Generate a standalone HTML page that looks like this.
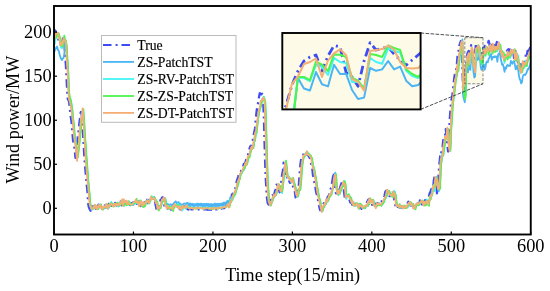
<!DOCTYPE html><html><head><meta charset="utf-8"><style>html,body{margin:0;padding:0;background:#fff;overflow:hidden}svg{display:block}</style></head><body><svg width="550" height="291" viewBox="0 0 550 291">
<rect x="0" y="0" width="550" height="291" fill="#fff"/>
<defs><clipPath id="cm"><rect x="54" y="6" width="476.75" height="228.5"/></clipPath><clipPath id="ci"><rect x="282.3" y="33" width="138.3" height="76.4"/></clipPath></defs>
<rect x="464.80" y="37.71" width="18.20" height="46.06" fill="#fcfae4"/>
<g clip-path="url(#cm)">
<polyline points="54.00,33.69 54.79,30.21 55.59,31.10 56.38,33.35 57.18,35.06 57.97,37.83 58.77,40.83 59.56,44.10 60.36,43.31 61.15,45.45 61.95,37.32 62.74,38.87 63.53,38.12 64.33,43.25 65.12,54.37 65.92,65.60 66.71,81.65 67.51,97.84 68.30,99.89 69.10,101.58 69.89,108.66 70.69,116.54 71.48,121.35 72.28,131.09 73.07,140.78 73.86,143.83 74.66,149.36 75.45,157.80 76.25,155.60 77.04,146.60 77.84,136.32 78.63,130.08 79.43,122.63 80.22,116.91 81.02,109.51 81.81,115.96 82.61,128.72 83.40,140.76 84.19,153.73 84.99,165.25 85.78,174.09 86.58,183.36 87.37,190.93 88.17,203.73 88.96,207.53 89.76,209.19 90.55,210.82 91.35,208.42 92.14,207.29 92.93,206.91 93.73,205.22 94.52,205.88 95.32,207.80 96.11,208.87 96.91,206.23 97.70,207.04 98.50,204.69 99.29,206.01 100.09,208.52 100.88,208.19 101.67,208.62 102.47,206.55 103.26,207.15 104.06,206.94 104.85,205.38 105.65,207.35 106.44,207.08 107.24,205.87 108.03,204.85 108.83,204.51 109.62,202.57 110.42,203.48 111.21,205.92 112.00,205.30 112.80,203.24 113.59,202.91 114.39,205.45 115.18,202.84 115.98,204.14 116.77,205.49 117.57,204.66 118.36,202.35 119.16,204.78 119.95,202.07 120.75,199.88 121.54,205.35 122.33,203.34 123.13,202.47 123.92,202.80 124.72,201.51 125.51,201.61 126.31,204.20 127.10,202.62 127.90,202.41 128.69,202.96 129.49,203.92 130.28,205.05 131.07,204.16 131.87,203.19 132.66,202.71 133.46,203.39 134.25,200.76 135.05,201.54 135.84,202.84 136.64,202.79 137.43,205.68 138.23,202.33 139.02,201.05 139.81,203.08 140.61,206.00 141.40,203.76 142.20,204.73 142.99,203.42 143.79,203.10 144.58,202.16 145.38,202.61 146.17,199.66 146.97,199.91 147.76,203.13 148.56,200.81 149.35,197.62 150.14,198.61 150.94,198.69 151.73,198.94 152.53,198.60 153.32,198.16 154.12,201.42 154.91,201.39 155.71,205.26 156.50,208.97 157.30,210.17 158.09,209.02 158.88,206.45 159.68,203.69 160.47,200.04 161.27,199.62 162.06,197.66 162.86,197.35 163.65,201.63 164.45,205.92 165.24,208.34 166.04,207.90 166.83,207.05 167.63,208.57 168.42,208.12 169.21,207.57 170.01,207.89 170.80,209.53 171.60,209.41 172.39,206.64 173.19,205.54 173.98,204.37 174.78,205.71 175.57,206.72 176.37,205.83 177.16,205.02 177.95,206.97 178.75,205.37 179.54,206.25 180.34,209.47 181.13,206.88 181.93,206.80 182.72,206.64 183.52,206.68 184.31,206.20 185.11,206.32 185.90,208.67 186.70,207.67 187.49,209.17 188.28,209.51 189.08,209.17 189.87,208.93 190.67,209.03 191.46,209.34 192.26,209.33 193.05,209.23 193.85,209.52 194.64,209.15 195.44,208.99 196.23,209.16 197.03,209.19 197.82,208.96 198.61,209.35 199.41,209.07 200.20,209.40 201.00,209.46 201.79,209.61 202.59,209.67 203.38,209.28 204.18,209.44 204.97,209.38 205.77,209.36 206.56,209.27 207.35,209.64 208.15,209.82 208.94,209.46 209.74,209.64 210.53,209.53 211.33,209.80 212.12,208.97 212.92,209.21 213.71,209.59 214.51,209.38 215.30,209.07 216.09,209.27 216.89,209.43 217.68,209.00 218.48,209.03 219.27,209.13 220.07,208.90 220.86,208.52 221.66,208.58 222.45,208.00 223.25,207.95 224.04,208.24 224.84,207.50 225.63,206.11 226.42,205.22 227.22,207.32 228.01,203.70 228.81,203.19 229.60,202.29 230.40,200.22 231.19,199.26 231.99,194.47 232.78,194.92 233.58,192.98 234.37,191.59 235.16,189.11 235.96,185.42 236.75,181.07 237.55,178.77 238.34,176.38 239.14,173.22 239.93,172.69 240.73,172.06 241.52,169.45 242.32,167.82 243.11,166.83 243.91,163.78 244.70,163.47 245.49,162.24 246.29,159.18 247.08,157.11 247.88,155.62 248.67,152.56 249.47,148.77 250.26,146.36 251.06,148.02 251.85,143.42 252.65,140.77 253.44,135.80 254.23,132.24 255.03,128.44 255.82,119.31 256.62,111.23 257.41,105.99 258.21,102.60 259.00,97.13 259.80,93.27 260.59,93.76 261.39,94.42 262.18,93.77 262.98,98.41 263.77,114.03 264.56,142.94 265.36,169.54 266.15,185.47 266.95,197.99 267.74,203.12 268.54,204.47 269.33,203.62 270.13,203.07 270.92,200.14 271.72,196.91 272.51,195.23 273.31,195.81 274.10,194.65 274.89,191.44 275.69,189.48 276.48,184.67 277.28,185.06 278.07,186.48 278.87,189.05 279.66,192.25 280.46,190.84 281.25,181.64 282.05,175.28 282.84,171.03 283.63,162.68 284.43,165.09 285.22,172.41 286.02,178.13 286.81,176.82 287.61,179.56 288.40,178.91 289.20,181.01 289.99,182.92 290.79,179.67 291.58,180.13 292.38,183.18 293.17,187.17 293.96,189.39 294.76,190.75 295.55,197.32 296.35,194.27 297.14,191.37 297.94,190.69 298.73,186.20 299.53,175.25 300.32,165.20 301.12,159.50 301.91,155.66 302.70,155.03 303.50,154.26 304.29,151.82 305.09,153.22 305.88,153.88 306.68,154.02 307.47,155.18 308.27,154.61 309.06,156.53 309.86,158.26 310.65,162.60 311.44,164.51 312.24,168.09 313.03,175.63 313.83,177.99 314.62,183.83 315.42,187.45 316.21,192.48 317.01,195.20 317.80,198.87 318.60,203.00 319.39,207.42 320.19,210.07 320.98,208.80 321.77,205.81 322.57,204.64 323.36,204.83 324.16,202.23 324.95,200.62 325.75,200.93 326.54,200.45 327.34,197.91 328.13,196.13 328.93,196.54 329.72,191.82 330.51,189.23 331.31,187.51 332.10,182.41 332.90,177.47 333.69,172.53 334.49,183.81 335.28,191.24 336.08,193.41 336.87,192.60 337.67,191.10 338.46,190.50 339.26,190.23 340.05,188.15 340.84,184.96 341.64,182.97 342.43,181.06 343.23,181.97 344.02,191.89 344.82,198.19 345.61,195.29 346.41,195.84 347.20,195.40 348.00,197.11 348.79,198.47 349.58,200.15 350.38,202.65 351.17,201.91 351.97,203.57 352.76,205.87 353.56,205.66 354.35,202.92 355.15,203.96 355.94,204.17 356.74,207.09 357.53,206.78 358.33,205.07 359.12,205.39 359.91,205.64 360.71,206.59 361.50,208.81 362.30,207.93 363.09,207.13 363.89,205.42 364.68,207.59 365.48,205.24 366.27,203.51 367.07,202.16 367.86,200.48 368.65,199.29 369.45,200.04 370.24,201.40 371.04,199.97 371.83,202.85 372.63,206.89 373.42,205.66 374.22,206.67 375.01,205.37 375.81,203.68 376.60,204.71 377.40,203.29 378.19,203.56 378.98,205.18 379.78,203.57 380.57,203.02 381.37,201.82 382.16,200.50 382.96,199.26 383.75,197.88 384.55,195.83 385.34,191.71 386.14,190.75 386.93,192.59 387.72,192.61 388.52,195.12 389.31,195.77 390.11,196.26 390.90,196.06 391.70,192.97 392.49,192.60 393.29,194.10 394.08,198.29 394.88,203.57 395.67,206.37 396.47,204.63 397.26,205.97 398.05,206.90 398.85,207.19 399.64,207.57 400.44,206.01 401.23,207.53 402.03,207.38 402.82,206.90 403.62,207.90 404.41,207.46 405.21,205.75 406.00,207.77 406.80,205.02 407.59,203.14 408.38,201.67 409.18,202.36 409.97,204.36 410.77,204.49 411.56,206.00 412.36,208.28 413.15,208.57 413.95,205.70 414.74,203.48 415.54,204.01 416.33,205.03 417.12,203.77 417.92,204.46 418.71,203.06 419.51,202.44 420.30,199.06 421.10,201.11 421.89,204.44 422.69,203.39 423.48,205.30 424.28,202.77 425.07,200.14 425.87,202.83 426.66,203.61 427.45,200.55 428.25,201.71 429.04,195.78 429.84,192.78 430.63,191.54 431.43,188.27 432.22,185.99 433.02,189.21 433.81,180.67 434.61,176.19 435.40,182.99 436.19,184.64 436.99,193.40 437.78,191.35 438.58,174.71 439.37,164.00 440.17,156.27 440.96,156.54 441.76,148.45 442.55,147.10 443.35,139.09 444.14,137.08 444.94,136.36 445.73,129.11 446.52,134.91 447.32,144.71 448.11,151.49 448.91,138.21 449.70,120.10 450.50,109.26 451.29,100.34 452.09,97.59 452.88,90.56 453.68,82.39 454.47,76.73 455.26,71.56 456.06,70.72 456.85,63.95 457.65,54.91 458.44,51.45 459.24,45.69 460.03,43.70 460.83,41.20 461.62,50.85 462.42,68.41 463.21,93.17 464.00,87.15 464.80,81.72 465.59,69.06 466.39,60.62 467.18,54.59 467.98,52.18 468.77,50.97 469.57,60.62 470.36,51.57 471.16,45.24 471.95,46.15 472.75,61.40 473.54,64.24 474.33,69.84 475.13,54.59 475.92,43.56 476.72,47.96 477.51,46.93 478.31,46.15 479.10,50.37 479.90,53.99 480.69,57.12 481.49,53.99 482.28,50.97 483.07,47.96 483.87,50.56 484.66,45.89 485.46,48.33 486.25,49.60 487.05,46.70 487.84,43.94 488.64,40.89 489.43,44.12 490.23,48.19 491.02,43.43 491.82,43.87 492.61,45.15 493.40,44.48 494.20,45.12 494.99,46.13 495.79,46.38 496.58,42.88 497.38,41.04 498.17,42.33 498.97,45.28 499.76,50.41 500.56,52.86 501.35,52.09 502.14,57.44 502.94,58.61 503.73,56.22 504.53,55.78 505.32,53.69 506.12,52.33 506.91,51.20 507.71,49.73 508.50,52.07 509.30,47.26 510.09,48.77 510.89,50.38 511.68,48.60 512.47,48.90 513.27,51.56 514.06,58.10 514.86,51.84 515.65,51.15 516.45,59.06 517.24,59.22 518.04,62.75 518.83,68.70 519.63,66.42 520.42,70.11 521.21,61.27 522.01,64.59 522.80,60.70 523.60,62.74 524.39,65.18 525.19,58.68 525.98,54.28 526.78,56.25 527.57,50.84 528.37,50.56 529.16,49.85 529.96,48.03 530.75,50.29" fill="none" stroke="#3d4df2" stroke-width="2.3" stroke-dasharray="8.5 4.1 2 3.9" stroke-linejoin="round"/>
<polyline points="54.00,52.32 54.79,50.60 55.59,49.10 56.38,47.15 57.18,46.61 57.97,49.87 58.77,50.87 59.56,54.19 60.36,56.98 61.15,58.79 61.95,60.13 62.74,58.59 63.53,57.77 64.33,54.26 65.12,40.97 65.92,40.69 66.71,51.24 67.51,64.21 68.30,80.69 69.10,96.38 69.89,98.96 70.69,102.45 71.48,107.49 72.28,113.86 73.07,121.90 73.86,129.90 74.66,137.85 75.45,143.27 76.25,147.09 77.04,157.27 77.84,153.52 78.63,147.98 79.43,139.12 80.22,131.85 81.02,122.77 81.81,117.90 82.61,111.27 83.40,115.24 84.19,127.52 84.99,139.23 85.78,151.80 86.58,163.82 87.37,172.43 88.17,183.02 88.96,190.84 89.76,200.78 90.55,206.84 91.35,209.60 92.14,209.53 92.93,208.33 93.73,208.02 94.52,206.21 95.32,205.53 96.11,207.06 96.91,207.10 97.70,208.16 98.50,206.57 99.29,205.08 100.09,204.56 100.88,204.63 101.67,207.01 102.47,208.16 103.26,208.21 104.06,207.90 104.85,207.91 105.65,207.51 106.44,205.64 107.24,205.96 108.03,208.72 108.83,207.38 109.62,205.40 110.42,204.45 111.21,203.44 112.00,203.49 112.80,204.63 113.59,205.84 114.39,204.02 115.18,205.08 115.98,205.08 116.77,203.42 117.57,203.91 118.36,204.86 119.16,203.69 119.95,202.73 120.75,203.18 121.54,203.95 122.33,201.65 123.13,203.07 123.92,203.23 124.72,202.33 125.51,201.97 126.31,203.28 127.10,203.28 127.90,202.74 128.69,201.54 129.49,203.92 130.28,203.45 131.07,204.32 131.87,204.86 132.66,204.67 133.46,204.88 134.25,202.99 135.05,202.61 135.84,201.90 136.64,201.71 137.43,202.92 138.23,202.55 139.02,203.55 139.81,202.60 140.61,201.79 141.40,202.71 142.20,202.89 142.99,205.39 143.79,204.59 144.58,206.46 145.38,202.51 146.17,201.32 146.97,200.50 147.76,200.89 148.56,202.54 149.35,201.94 150.14,200.01 150.94,198.91 151.73,198.87 152.53,198.14 153.32,198.74 154.12,196.92 154.91,199.46 155.71,201.43 156.50,202.38 157.30,205.53 158.09,209.51 158.88,207.52 159.68,207.77 160.47,207.86 161.27,204.54 162.06,200.27 162.86,199.63 163.65,198.81 164.45,197.95 165.24,198.43 166.04,202.24 166.83,204.55 167.63,203.80 168.42,204.69 169.21,205.08 170.01,204.59 170.80,204.21 171.60,205.48 172.39,205.53 173.19,204.02 173.98,202.89 174.78,202.38 175.57,201.33 176.37,202.44 177.16,203.73 177.95,202.11 178.75,202.15 179.54,205.13 180.34,203.60 181.13,204.74 181.93,206.10 182.72,204.81 183.52,203.61 184.31,203.66 185.11,203.49 185.90,204.23 186.70,203.19 187.49,202.85 188.28,205.19 189.08,203.36 189.87,206.12 190.67,203.52 191.46,205.60 192.26,203.74 193.05,206.07 193.85,203.96 194.64,206.30 195.44,204.09 196.23,205.67 197.03,203.49 197.82,206.22 198.61,203.76 199.41,205.59 200.20,203.58 201.00,205.89 201.79,203.75 202.59,206.09 203.38,203.83 204.18,206.24 204.97,203.81 205.77,205.95 206.56,203.55 207.35,205.97 208.15,203.87 208.94,206.34 209.74,204.18 210.53,206.07 211.33,203.86 212.12,206.57 212.92,204.32 213.71,205.98 214.51,203.49 215.30,206.28 216.09,203.79 216.89,206.08 217.68,203.67 218.48,206.15 219.27,203.74 220.07,205.82 220.86,203.60 221.66,205.66 222.45,203.08 223.25,205.24 224.04,202.52 224.84,204.46 225.63,202.40 226.42,204.49 227.22,200.91 228.01,202.19 228.81,201.06 229.60,200.42 230.40,197.20 231.19,198.03 231.99,196.64 232.78,197.79 233.58,195.28 234.37,193.05 235.16,192.64 235.96,190.92 236.75,187.16 237.55,185.84 238.34,181.46 239.14,179.45 239.93,176.57 240.73,174.20 241.52,172.82 242.32,171.00 243.11,169.16 243.91,169.77 244.70,166.99 245.49,164.22 246.29,164.06 247.08,163.23 247.88,158.48 248.67,157.44 249.47,155.20 250.26,151.81 251.06,149.67 251.85,148.99 252.65,147.71 253.44,145.22 254.23,140.98 255.03,136.08 255.82,132.84 256.62,128.37 257.41,121.53 258.21,116.09 259.00,112.22 259.80,108.15 260.59,106.07 261.39,101.05 262.18,99.88 262.98,98.01 263.77,97.82 264.56,100.56 265.36,111.69 266.15,139.37 266.95,164.93 267.74,185.77 268.54,198.05 269.33,201.91 270.13,205.37 270.92,204.40 271.72,202.29 272.51,198.23 273.31,197.64 274.10,196.33 274.89,196.04 275.69,194.80 276.48,191.28 277.28,188.85 278.07,185.51 278.87,184.86 279.66,186.43 280.46,189.39 281.25,192.25 282.05,189.65 282.84,183.81 283.63,175.50 284.43,171.30 285.22,164.02 286.02,164.31 286.81,172.40 287.61,177.63 288.40,176.82 289.20,177.53 289.99,179.48 290.79,179.86 291.58,181.53 292.38,179.82 293.17,180.56 293.96,183.30 294.76,184.99 295.55,189.21 296.35,192.49 297.14,196.51 297.94,195.16 298.73,190.21 299.53,190.35 300.32,184.61 301.12,175.28 301.91,166.45 302.70,160.93 303.50,157.11 304.29,155.58 305.09,155.76 305.88,153.19 306.68,152.36 307.47,152.61 308.27,153.89 309.06,154.95 309.86,154.93 310.65,156.34 311.44,157.52 312.24,161.60 313.03,167.75 313.83,168.12 314.62,173.36 315.42,176.96 316.21,181.76 317.01,188.03 317.80,191.32 318.60,195.74 319.39,199.73 320.19,203.44 320.98,207.17 321.77,211.19 322.57,209.73 323.36,206.75 324.16,205.52 324.95,205.48 325.75,203.69 326.54,200.03 327.34,199.86 328.13,200.23 328.93,198.19 329.72,195.85 330.51,194.53 331.31,193.25 332.10,190.16 332.90,187.14 333.69,183.18 334.49,179.81 335.28,172.69 336.08,180.73 336.87,190.14 337.67,193.49 338.46,193.92 339.26,191.40 340.05,193.57 340.84,188.63 341.64,186.72 342.43,186.50 343.23,185.04 344.02,181.51 344.82,182.53 345.61,190.21 346.41,197.32 347.20,195.70 348.00,194.92 348.79,195.38 349.58,196.81 350.38,197.84 351.17,199.88 351.97,201.98 352.76,202.12 353.56,204.44 354.35,205.60 355.15,205.37 355.94,204.57 356.74,204.83 357.53,205.13 358.33,206.84 359.12,206.63 359.91,203.62 360.71,205.66 361.50,206.15 362.30,207.16 363.09,208.09 363.89,207.91 364.68,208.26 365.48,206.43 366.27,205.33 367.07,204.85 367.86,204.18 368.65,202.44 369.45,199.28 370.24,199.52 371.04,200.78 371.83,201.80 372.63,199.87 373.42,202.03 374.22,204.69 375.01,205.75 375.81,206.16 376.60,205.87 377.40,203.81 378.19,204.89 378.98,204.22 379.78,204.28 380.57,203.90 381.37,205.41 382.16,203.65 382.96,203.65 383.75,200.97 384.55,198.29 385.34,198.28 386.14,195.53 386.93,192.90 387.72,190.57 388.52,191.19 389.31,192.82 390.11,194.07 390.90,196.02 391.70,196.08 392.49,195.79 393.29,192.86 394.08,192.81 394.88,192.11 395.67,197.74 396.47,205.23 397.26,204.78 398.05,206.28 398.85,205.31 399.64,205.30 400.44,207.63 401.23,207.08 402.03,207.48 402.82,206.38 403.62,207.35 404.41,207.30 405.21,206.38 406.00,207.17 406.80,206.68 407.59,206.96 408.38,206.47 409.18,203.68 409.97,203.25 410.77,204.10 411.56,204.76 412.36,204.50 413.15,205.47 413.95,207.56 414.74,208.08 415.54,207.11 416.33,205.62 417.12,204.04 417.92,204.49 418.71,203.78 419.51,203.14 420.30,203.10 421.10,201.65 421.89,201.42 422.69,202.00 423.48,203.77 424.28,204.37 425.07,203.24 425.87,203.02 426.66,201.34 427.45,201.78 428.25,204.87 429.04,201.82 429.84,199.38 430.63,196.96 431.43,194.44 432.22,192.32 433.02,185.97 433.81,186.46 434.61,187.40 435.40,182.43 436.19,177.84 436.99,181.70 437.78,183.21 438.58,191.43 439.37,188.93 440.17,177.38 440.96,164.53 441.76,157.54 442.55,152.98 443.35,149.70 444.14,146.18 444.94,140.34 445.73,138.45 446.52,134.94 447.32,131.98 448.11,132.06 448.91,143.70 449.70,149.59 450.50,142.18 451.29,123.55 452.09,108.42 452.88,100.76 453.68,95.90 454.47,89.30 455.26,82.24 456.06,76.66 456.85,72.57 457.65,67.01 458.44,65.80 459.24,56.50 460.03,52.39 460.83,48.38 461.62,43.93 462.42,39.35 463.21,96.19 464.00,99.20 464.80,102.22 465.59,94.98 466.39,64.90 467.18,71.17 467.98,72.37 468.77,61.22 469.57,68.64 470.36,69.90 471.16,56.82 471.95,62.43 472.75,62.25 473.54,72.07 474.33,77.50 475.13,76.65 475.92,58.81 476.72,60.50 477.51,59.65 478.31,54.59 479.10,59.65 479.90,57.97 480.69,66.47 481.49,69.84 482.28,69.06 483.07,65.44 483.87,64.43 484.66,69.84 485.46,67.34 486.25,62.29 487.05,61.51 487.84,62.38 488.64,58.74 489.43,57.64 490.23,55.08 491.02,54.02 491.82,59.79 492.61,57.73 493.40,56.61 494.20,57.42 494.99,56.22 495.79,57.12 496.58,56.48 497.38,61.76 498.17,54.65 498.97,53.57 499.76,52.74 500.56,57.48 501.35,61.29 502.14,64.84 502.94,64.21 503.73,67.38 504.53,71.75 505.32,67.30 506.12,68.43 506.91,65.66 507.71,64.80 508.50,65.93 509.30,65.83 510.09,65.75 510.89,60.95 511.68,62.75 512.47,63.83 513.27,61.44 514.06,61.06 514.86,64.63 515.65,69.27 516.45,68.93 517.24,65.43 518.04,68.58 518.83,74.84 519.63,78.74 520.42,80.40 521.21,83.42 522.01,82.05 522.80,76.45 523.60,74.90 524.39,74.49 525.19,75.00 525.98,73.76 526.78,72.19 527.57,69.16 528.37,69.63 529.16,66.99 529.96,66.12 530.75,62.06" fill="none" stroke="#4ab4f5" stroke-width="1.8" stroke-linejoin="round"/>
<polyline points="54.00,39.08 54.79,43.81 55.59,38.40 56.38,36.68 57.18,34.97 57.97,37.04 58.77,35.71 59.56,40.62 60.36,44.26 61.15,47.82 61.95,48.03 62.74,45.39 63.53,42.21 64.33,38.15 65.12,39.39 65.92,41.93 66.71,47.65 67.51,64.39 68.30,72.45 69.10,95.10 69.89,98.19 70.69,100.38 71.48,103.12 72.28,109.61 73.07,118.88 73.86,124.74 74.66,136.49 75.45,140.22 76.25,147.14 77.04,153.01 77.84,155.62 78.63,148.96 79.43,141.96 80.22,133.02 81.02,125.87 81.81,117.09 82.61,113.57 83.40,112.22 84.19,123.67 84.99,137.78 85.78,150.12 86.58,160.82 87.37,171.07 88.17,179.63 88.96,188.58 89.76,197.71 90.55,206.09 91.35,207.99 92.14,208.71 92.93,208.27 93.73,207.81 94.52,206.78 95.32,205.78 96.11,206.27 96.91,206.41 97.70,208.98 98.50,207.98 99.29,204.71 100.09,205.96 100.88,205.56 101.67,207.90 102.47,206.78 103.26,209.75 104.06,207.86 104.85,206.43 105.65,205.94 106.44,206.21 107.24,207.24 108.03,208.45 108.83,207.62 109.62,205.74 110.42,205.40 111.21,201.90 112.00,204.07 112.80,205.19 113.59,206.02 114.39,204.82 115.18,203.88 115.98,205.13 116.77,203.60 117.57,203.59 118.36,206.60 119.16,206.12 119.95,202.13 120.75,203.28 121.54,203.57 122.33,202.30 123.13,201.72 123.92,206.21 124.72,201.22 125.51,201.00 126.31,203.41 127.10,201.67 127.90,203.80 128.69,201.62 129.49,201.62 130.28,204.65 131.07,204.92 131.87,204.14 132.66,204.47 133.46,202.73 134.25,202.04 135.05,203.68 135.84,202.52 136.64,201.13 137.43,203.64 138.23,201.12 139.02,204.05 139.81,204.40 140.61,200.71 141.40,202.99 142.20,202.84 142.99,205.85 143.79,204.34 144.58,204.98 145.38,204.82 146.17,202.33 146.97,202.40 147.76,200.09 148.56,201.22 149.35,203.67 150.14,201.67 150.94,197.04 151.73,197.68 152.53,197.84 153.32,198.22 154.12,198.76 154.91,199.36 155.71,200.15 156.50,202.95 157.30,204.28 158.09,205.98 158.88,208.98 159.68,207.25 160.47,208.14 161.27,205.53 162.06,200.45 162.86,200.25 163.65,199.28 164.45,198.70 165.24,200.21 166.04,203.95 166.83,206.61 167.63,207.92 168.42,206.24 169.21,206.44 170.01,207.14 170.80,207.40 171.60,208.12 172.39,208.53 173.19,209.06 173.98,206.95 174.78,206.02 175.57,204.88 176.37,206.29 177.16,206.63 177.95,203.55 178.75,204.89 179.54,207.79 180.34,205.45 181.13,207.43 181.93,210.66 182.72,209.51 183.52,207.63 184.31,207.40 185.11,206.11 185.90,208.64 186.70,205.12 187.49,206.98 188.28,207.17 189.08,207.46 189.87,207.97 190.67,208.22 191.46,207.43 192.26,208.07 193.05,207.83 193.85,208.07 194.64,207.79 195.44,207.66 196.23,207.97 197.03,207.43 197.82,207.51 198.61,207.98 199.41,207.91 200.20,208.05 201.00,207.71 201.79,207.84 202.59,207.89 203.38,208.15 204.18,208.32 204.97,207.85 205.77,207.91 206.56,208.18 207.35,207.85 208.15,207.88 208.94,208.42 209.74,208.69 210.53,208.54 211.33,208.23 212.12,208.12 212.92,208.57 213.71,207.94 214.51,207.91 215.30,208.17 216.09,208.00 216.89,208.20 217.68,207.84 218.48,208.31 219.27,207.76 220.07,207.99 220.86,207.78 221.66,207.93 222.45,207.22 223.25,207.26 224.04,206.88 224.84,206.56 225.63,206.53 226.42,206.49 227.22,205.77 228.01,203.72 228.81,204.88 229.60,205.45 230.40,199.55 231.19,201.31 231.99,198.34 232.78,199.68 233.58,196.41 234.37,193.08 235.16,194.62 235.96,190.89 236.75,188.41 237.55,185.37 238.34,183.51 239.14,180.02 239.93,178.20 240.73,174.04 241.52,173.54 242.32,171.14 243.11,170.82 243.91,168.79 244.70,167.72 245.49,165.02 246.29,162.88 247.08,164.18 247.88,158.70 248.67,156.83 249.47,156.42 250.26,153.34 251.06,150.56 251.85,148.46 252.65,147.18 253.44,146.81 254.23,140.52 255.03,140.98 255.82,133.29 256.62,133.24 257.41,124.65 258.21,117.83 259.00,113.15 259.80,108.30 260.59,106.29 261.39,104.36 262.18,100.90 262.98,98.93 263.77,96.73 264.56,99.38 265.36,106.49 266.15,130.06 266.95,159.52 267.74,181.80 268.54,194.32 269.33,201.27 270.13,205.18 270.92,204.96 271.72,201.22 272.51,201.18 273.31,198.92 274.10,196.08 274.89,195.56 275.69,195.56 276.48,193.76 277.28,189.73 278.07,187.74 278.87,185.07 279.66,186.19 280.46,187.97 281.25,191.12 282.05,193.15 282.84,186.57 283.63,177.94 284.43,171.67 285.22,167.12 286.02,162.84 286.81,168.19 287.61,176.94 288.40,176.35 289.20,176.96 289.99,180.06 290.79,180.03 291.58,182.81 292.38,180.96 293.17,178.33 293.96,182.25 294.76,184.73 295.55,188.30 296.35,192.75 297.14,196.20 297.94,196.12 298.73,192.69 299.53,189.81 300.32,188.36 301.12,179.00 301.91,167.85 302.70,161.15 303.50,157.81 304.29,156.07 305.09,154.96 305.88,153.50 306.68,154.55 307.47,152.69 308.27,154.45 309.06,153.74 309.86,154.90 310.65,156.43 311.44,157.30 312.24,161.75 313.03,165.22 313.83,167.59 314.62,170.54 315.42,177.96 316.21,180.37 317.01,186.71 317.80,191.95 318.60,195.56 319.39,198.67 320.19,201.06 320.98,206.25 321.77,209.51 322.57,210.46 323.36,207.24 324.16,206.33 324.95,204.92 325.75,204.21 326.54,201.52 327.34,199.05 328.13,201.32 328.93,197.31 329.72,196.19 330.51,194.05 331.31,194.20 332.10,191.43 332.90,188.25 333.69,184.95 334.49,179.74 335.28,174.31 336.08,177.11 336.87,188.69 337.67,192.41 338.46,195.13 339.26,191.94 340.05,192.24 340.84,189.25 341.64,187.88 342.43,185.28 343.23,184.80 344.02,180.80 344.82,181.45 345.61,186.75 346.41,198.97 347.20,196.54 348.00,195.43 348.79,195.01 349.58,195.80 350.38,199.36 351.17,199.26 351.97,203.00 352.76,203.64 353.56,202.71 354.35,204.73 355.15,205.81 355.94,205.16 356.74,203.96 357.53,203.57 358.33,204.58 359.12,208.87 359.91,204.88 360.71,204.97 361.50,205.37 362.30,205.81 363.09,207.01 363.89,208.31 364.68,207.26 365.48,207.04 366.27,206.92 367.07,205.58 367.86,205.44 368.65,200.49 369.45,201.71 370.24,199.77 371.04,200.76 371.83,200.78 372.63,201.38 373.42,200.73 374.22,205.14 375.01,205.40 375.81,205.81 376.60,206.28 377.40,203.82 378.19,205.31 378.98,204.55 379.78,203.21 380.57,204.41 381.37,205.18 382.16,204.80 382.96,201.88 383.75,202.21 384.55,200.36 385.34,198.66 386.14,196.26 386.93,193.74 387.72,191.96 388.52,190.98 389.31,192.37 390.11,193.76 390.90,194.33 391.70,195.69 392.49,195.18 393.29,194.74 394.08,190.64 394.88,191.89 395.67,195.26 396.47,202.97 397.26,205.29 398.05,204.84 398.85,206.73 399.64,205.82 400.44,207.27 401.23,206.27 402.03,205.91 402.82,207.79 403.62,206.96 404.41,206.22 405.21,206.41 406.00,206.31 406.80,207.67 407.59,206.46 408.38,206.38 409.18,203.30 409.97,202.47 410.77,202.74 411.56,205.18 412.36,203.83 413.15,203.63 413.95,206.90 414.74,208.72 415.54,207.78 416.33,204.96 417.12,204.67 417.92,204.54 418.71,205.15 419.51,203.94 420.30,203.28 421.10,202.77 421.89,200.74 422.69,201.79 423.48,202.93 424.28,205.22 425.07,202.89 425.87,204.79 426.66,199.41 427.45,200.52 428.25,201.54 429.04,201.94 429.84,198.62 430.63,199.12 431.43,194.79 432.22,193.14 433.02,188.64 433.81,185.00 434.61,191.21 435.40,184.80 436.19,176.76 436.99,181.26 437.78,183.11 438.58,188.62 439.37,189.76 440.17,179.95 440.96,165.24 441.76,158.18 442.55,156.33 443.35,155.64 444.14,147.34 444.94,143.18 445.73,136.46 446.52,138.16 447.32,133.01 448.11,129.81 448.91,141.75 449.70,148.47 450.50,147.70 451.29,125.28 452.09,114.31 452.88,102.74 453.68,97.55 454.47,90.09 455.26,80.35 456.06,77.66 456.85,75.93 457.65,71.36 458.44,64.74 459.24,61.31 460.03,51.10 460.83,49.24 461.62,42.95 462.42,42.65 463.21,90.16 464.00,93.17 464.80,96.19 465.59,93.17 466.39,64.54 467.18,64.90 467.98,66.77 468.77,57.00 469.57,58.09 470.36,63.03 471.16,52.78 471.95,55.19 472.75,55.80 473.54,67.25 474.33,67.25 475.13,70.69 475.92,52.78 476.72,55.19 477.51,56.28 478.31,46.93 479.10,48.56 479.90,49.46 480.69,60.50 481.49,63.63 482.28,64.84 483.07,62.43 483.87,49.28 484.66,50.79 485.46,55.96 486.25,52.53 487.05,48.38 487.84,48.90 488.64,52.53 489.43,52.61 490.23,47.63 491.02,47.32 491.82,53.05 492.61,52.62 493.40,47.50 494.20,47.82 494.99,49.04 495.79,48.18 496.58,46.74 497.38,51.00 498.17,49.21 498.97,46.08 499.76,43.98 500.56,48.89 501.35,52.93 502.14,50.81 502.94,56.76 503.73,57.14 504.53,62.76 505.32,57.20 506.12,58.60 506.91,56.54 507.71,55.80 508.50,54.12 509.30,57.58 510.09,58.10 510.89,55.54 511.68,50.56 512.47,53.42 513.27,52.89 514.06,52.27 514.86,53.82 515.65,60.19 516.45,56.81 517.24,53.83 518.04,55.57 518.83,61.99 519.63,67.52 520.42,72.84 521.21,72.17 522.01,72.12 522.80,68.04 523.60,63.80 524.39,67.76 525.19,63.24 525.98,60.37 526.78,66.01 527.57,60.25 528.37,60.27 529.16,57.20 529.96,55.83 530.75,53.95" fill="none" stroke="#44f4f8" stroke-width="1.8" stroke-linejoin="round"/>
<polyline points="54.00,36.95 54.79,38.05 55.59,38.32 56.38,36.62 57.18,32.93 57.97,32.93 58.77,33.49 59.56,36.33 60.36,37.89 61.15,45.73 61.95,41.97 62.74,46.34 63.53,42.36 64.33,35.59 65.12,40.43 65.92,40.42 66.71,45.31 67.51,60.13 68.30,72.42 69.10,91.88 69.89,97.78 70.69,99.49 71.48,104.40 72.28,109.35 73.07,117.33 73.86,124.28 74.66,133.40 75.45,142.86 76.25,143.24 77.04,152.71 77.84,157.50 78.63,150.50 79.43,144.67 80.22,133.54 81.02,128.52 81.81,117.54 82.61,116.63 83.40,109.17 84.19,120.43 84.99,134.93 85.78,146.09 86.58,156.76 87.37,167.18 88.17,180.04 88.96,186.58 89.76,196.30 90.55,205.53 91.35,206.02 92.14,208.46 92.93,208.88 93.73,208.62 94.52,207.56 95.32,205.08 96.11,206.43 96.91,206.59 97.70,209.39 98.50,208.52 99.29,206.91 100.09,206.69 100.88,204.41 101.67,208.54 102.47,207.43 103.26,209.13 104.06,207.30 104.85,207.18 105.65,206.55 106.44,207.37 107.24,205.10 108.03,208.19 108.83,207.13 109.62,203.77 110.42,205.98 111.21,203.08 112.00,203.94 112.80,205.02 113.59,206.68 114.39,204.54 115.18,204.34 115.98,204.32 116.77,204.01 117.57,202.77 118.36,204.31 119.16,205.84 119.95,204.05 120.75,204.18 121.54,204.53 122.33,202.80 123.13,200.57 123.92,205.55 124.72,200.86 125.51,201.89 126.31,205.16 127.10,202.50 127.90,205.10 128.69,201.38 129.49,202.77 130.28,203.45 131.07,204.89 131.87,203.97 132.66,204.13 133.46,203.81 134.25,202.74 135.05,202.45 135.84,202.56 136.64,198.88 137.43,203.02 138.23,201.51 139.02,203.07 139.81,206.06 140.61,200.32 141.40,203.35 142.20,202.97 142.99,207.20 143.79,203.24 144.58,206.44 145.38,205.16 146.17,201.17 146.97,201.86 147.76,200.51 148.56,200.82 149.35,202.68 150.14,201.17 150.94,199.08 151.73,196.19 152.53,198.71 153.32,198.64 154.12,198.70 154.91,198.06 155.71,199.50 156.50,203.28 157.30,201.45 158.09,206.20 158.88,210.56 159.68,208.00 160.47,208.34 161.27,205.43 162.06,201.80 162.86,200.06 163.65,201.36 164.45,197.93 165.24,199.40 166.04,204.07 166.83,205.52 167.63,208.55 168.42,206.78 169.21,206.55 170.01,209.17 170.80,207.85 171.60,206.76 172.39,207.88 173.19,211.05 173.98,206.06 174.78,206.94 175.57,205.67 176.37,205.25 177.16,206.65 177.95,204.82 178.75,205.85 179.54,208.28 180.34,207.47 181.13,207.94 181.93,208.16 182.72,207.41 183.52,206.68 184.31,207.56 185.11,206.82 185.90,207.29 186.70,206.11 187.49,206.92 188.28,207.59 189.08,207.51 189.87,208.16 190.67,208.34 191.46,207.81 192.26,208.23 193.05,208.20 193.85,208.55 194.64,208.12 195.44,208.32 196.23,208.72 197.03,208.00 197.82,207.88 198.61,208.17 199.41,207.85 200.20,207.98 201.00,208.27 201.79,208.21 202.59,208.46 203.38,208.51 204.18,208.54 204.97,208.45 205.77,208.14 206.56,208.40 207.35,207.83 208.15,208.08 208.94,208.62 209.74,208.68 210.53,208.63 211.33,208.14 212.12,208.19 212.92,209.06 213.71,207.85 214.51,207.88 215.30,208.64 216.09,208.45 216.89,208.52 217.68,207.91 218.48,208.59 219.27,208.30 220.07,207.76 220.86,208.04 221.66,208.07 222.45,207.36 223.25,207.49 224.04,207.33 224.84,206.88 225.63,206.65 226.42,206.80 227.22,206.17 228.01,205.89 228.81,204.19 229.60,207.13 230.40,200.78 231.19,202.19 231.99,199.76 232.78,198.00 233.58,196.94 234.37,193.87 235.16,194.66 235.96,191.24 236.75,189.42 237.55,186.14 238.34,183.55 239.14,179.50 239.93,179.40 240.73,173.51 241.52,173.47 242.32,171.61 243.11,170.15 243.91,169.23 244.70,168.11 245.49,166.12 246.29,162.24 247.08,164.45 247.88,160.15 248.67,155.63 249.47,157.49 250.26,154.16 251.06,150.35 251.85,147.82 252.65,147.52 253.44,148.17 254.23,141.23 255.03,140.41 255.82,132.90 256.62,132.67 257.41,125.22 258.21,118.14 259.00,113.68 259.80,108.71 260.59,107.85 261.39,102.79 262.18,101.03 262.98,99.88 263.77,97.27 264.56,99.90 265.36,101.73 266.15,125.61 266.95,152.85 267.74,179.44 268.54,190.95 269.33,201.09 270.13,203.43 270.92,205.44 271.72,201.72 272.51,200.64 273.31,198.04 274.10,196.48 274.89,194.33 275.69,195.02 276.48,194.04 277.28,189.67 278.07,188.91 278.87,184.25 279.66,186.44 280.46,186.06 281.25,190.84 282.05,191.52 282.84,187.57 283.63,179.68 284.43,172.50 285.22,168.97 286.02,160.69 286.81,167.02 287.61,175.62 288.40,177.11 289.20,177.61 289.99,178.88 290.79,179.04 291.58,180.22 292.38,181.47 293.17,177.86 293.96,182.82 294.76,184.08 295.55,187.43 296.35,191.54 297.14,194.81 297.94,196.48 298.73,191.95 299.53,190.29 300.32,189.69 301.12,183.22 301.91,170.38 302.70,162.29 303.50,158.88 304.29,155.82 305.09,154.14 305.88,153.95 306.68,153.08 307.47,151.87 308.27,154.88 309.06,154.14 309.86,156.43 310.65,155.19 311.44,157.55 312.24,158.94 313.03,165.35 313.83,168.09 314.62,170.46 315.42,175.22 316.21,179.60 317.01,185.86 317.80,189.20 318.60,194.76 319.39,198.30 320.19,200.21 320.98,205.99 321.77,208.71 322.57,210.97 323.36,208.00 324.16,207.16 324.95,202.91 325.75,204.01 326.54,202.10 327.34,199.32 328.13,200.93 328.93,198.09 329.72,196.91 330.51,195.79 331.31,194.94 332.10,191.64 332.90,187.57 333.69,185.68 334.49,181.00 335.28,175.94 336.08,174.22 336.87,185.38 337.67,192.46 338.46,194.76 339.26,192.05 340.05,192.86 340.84,190.98 341.64,188.61 342.43,185.32 343.23,186.35 344.02,181.36 344.82,181.54 345.61,184.22 346.41,196.45 347.20,195.37 348.00,195.50 348.79,194.21 349.58,196.43 350.38,198.08 351.17,197.75 351.97,201.57 352.76,204.11 353.56,202.21 354.35,205.49 355.15,205.69 355.94,205.23 356.74,203.08 357.53,203.54 358.33,205.09 359.12,208.92 359.91,204.15 360.71,203.69 361.50,204.88 362.30,205.95 363.09,208.05 363.89,206.91 364.68,207.93 365.48,206.65 366.27,206.28 367.07,205.38 367.86,206.06 368.65,201.46 369.45,204.01 370.24,198.17 371.04,200.25 371.83,201.81 372.63,201.47 373.42,200.04 374.22,204.98 375.01,205.80 375.81,206.24 376.60,206.80 377.40,204.06 378.19,204.68 378.98,205.36 379.78,203.78 380.57,204.58 381.37,205.68 382.16,203.81 382.96,203.18 383.75,202.55 384.55,199.79 385.34,198.39 386.14,194.76 386.93,196.06 387.72,190.46 388.52,191.99 389.31,190.90 390.11,193.55 390.90,194.20 391.70,196.42 392.49,194.13 393.29,197.26 394.08,192.11 394.88,193.22 395.67,195.07 396.47,201.52 397.26,205.42 398.05,205.42 398.85,207.09 399.64,204.13 400.44,206.72 401.23,205.87 402.03,206.03 402.82,207.80 403.62,208.25 404.41,205.54 405.21,207.74 406.00,206.09 406.80,207.92 407.59,205.82 408.38,205.79 409.18,203.16 409.97,202.19 410.77,202.05 411.56,204.42 412.36,204.51 413.15,204.39 413.95,206.87 414.74,208.09 415.54,209.37 416.33,204.50 417.12,204.82 417.92,204.40 418.71,205.40 419.51,204.55 420.30,201.88 421.10,202.40 421.89,201.12 422.69,200.55 423.48,202.40 424.28,205.67 425.07,202.01 425.87,205.38 426.66,202.75 427.45,201.14 428.25,200.77 429.04,205.85 429.84,196.18 430.63,199.25 431.43,195.11 432.22,195.47 433.02,187.69 433.81,184.99 434.61,187.52 435.40,185.96 436.19,177.31 436.99,178.27 437.78,182.45 438.58,189.42 439.37,189.50 440.17,187.92 440.96,166.65 441.76,158.26 442.55,155.62 443.35,154.61 444.14,149.25 444.94,144.57 445.73,137.59 446.52,137.16 447.32,134.88 448.11,128.86 448.91,139.46 449.70,145.47 450.50,150.94 451.29,128.93 452.09,117.93 452.88,106.37 453.68,97.72 454.47,93.01 455.26,86.19 456.06,79.19 456.85,75.52 457.65,69.31 458.44,70.62 459.24,62.38 460.03,49.45 460.83,52.16 461.62,48.88 462.42,41.95 463.21,88.95 464.00,93.17 464.80,99.20 465.59,96.19 466.39,64.24 467.18,64.24 467.98,66.16 468.77,54.95 469.57,56.82 470.36,60.62 471.16,50.61 471.95,50.85 472.75,52.18 473.54,64.84 474.33,66.47 475.13,71.47 475.92,50.37 476.72,50.97 477.51,52.18 478.31,45.24 479.10,46.75 479.90,47.96 480.69,59.65 481.49,62.43 482.28,64.24 483.07,60.02 483.87,48.62 484.66,49.83 485.46,55.29 486.25,51.18 487.05,47.13 487.84,48.52 488.64,54.81 489.43,48.11 490.23,50.89 491.02,47.02 491.82,49.00 492.61,53.63 493.40,46.26 494.20,47.70 494.99,52.02 495.79,51.47 496.58,47.21 497.38,49.42 498.17,48.84 498.97,45.35 499.76,45.32 500.56,45.09 501.35,54.66 502.14,50.83 502.94,55.88 503.73,52.40 504.53,61.13 505.32,54.60 506.12,57.18 506.91,56.93 507.71,59.46 508.50,53.10 509.30,56.93 510.09,53.14 510.89,55.77 511.68,51.35 512.47,52.81 513.27,52.61 514.06,51.59 514.86,49.30 515.65,60.56 516.45,59.69 517.24,58.01 518.04,56.82 518.83,62.16 519.63,64.12 520.42,71.22 521.21,72.18 522.01,72.10 522.80,69.42 523.60,64.32 524.39,66.95 525.19,63.68 525.98,63.15 526.78,65.95 527.57,60.96 528.37,59.55 529.16,57.20 529.96,54.92 530.75,57.29" fill="none" stroke="#4cf44c" stroke-width="1.8" stroke-linejoin="round"/>
<polyline points="54.00,38.55 54.79,37.62 55.59,32.97 56.38,33.12 57.18,33.72 57.97,32.64 58.77,38.48 59.56,37.90 60.36,45.41 61.15,42.58 61.95,44.57 62.74,43.37 63.53,38.38 64.33,40.06 65.12,40.18 65.92,43.21 66.71,59.91 67.51,68.26 68.30,90.47 69.10,99.84 69.89,101.40 70.69,105.85 71.48,109.53 72.28,117.02 73.07,122.86 73.86,134.72 74.66,140.95 75.45,144.79 76.25,152.44 77.04,160.88 77.84,149.66 78.63,144.37 79.43,133.54 80.22,126.93 81.02,118.28 81.81,118.05 82.61,108.44 83.40,118.37 84.19,136.16 84.99,146.48 85.78,160.03 86.58,169.92 87.37,179.06 88.17,186.76 88.96,196.70 89.76,204.52 90.55,206.82 91.35,208.24 92.14,208.99 92.93,208.55 93.73,207.00 94.52,205.02 95.32,208.09 96.11,205.65 96.91,209.03 97.70,208.14 98.50,205.10 99.29,206.95 100.09,204.90 100.88,208.10 101.67,206.53 102.47,209.68 103.26,206.71 104.06,206.49 104.85,207.21 105.65,206.45 106.44,203.58 107.24,207.65 108.03,208.46 108.83,205.16 109.62,205.77 110.42,204.18 111.21,203.88 112.00,205.03 112.80,206.30 113.59,204.67 114.39,203.80 115.18,205.79 115.98,203.40 116.77,204.03 117.57,205.66 118.36,204.79 119.16,203.17 119.95,204.90 120.75,202.99 121.54,200.62 122.33,199.26 123.13,205.96 123.92,199.32 124.72,201.99 125.51,202.33 126.31,200.60 127.10,204.36 127.90,201.46 128.69,203.30 129.49,204.14 130.28,204.48 131.07,204.66 131.87,204.65 132.66,203.83 133.46,202.42 134.25,201.86 135.05,201.57 135.84,199.71 136.64,202.39 137.43,201.46 138.23,202.96 139.02,206.35 139.81,200.98 140.61,203.62 141.40,201.48 142.20,206.15 142.99,202.34 143.79,204.97 144.58,204.04 145.38,201.85 146.17,202.33 146.97,201.06 147.76,200.16 148.56,203.22 149.35,202.12 150.14,199.38 150.94,196.94 151.73,199.61 152.53,198.69 153.32,198.68 154.12,198.25 154.91,198.78 155.71,203.11 156.50,202.02 157.30,207.89 158.09,209.42 158.88,206.67 159.68,208.08 160.47,206.36 161.27,202.19 162.06,199.30 162.86,200.02 163.65,197.59 164.45,198.18 165.24,205.56 166.04,206.26 166.83,208.81 167.63,205.61 168.42,207.73 169.21,208.04 170.01,207.83 170.80,207.93 171.60,208.18 172.39,209.59 173.19,205.62 173.98,206.19 174.78,204.05 175.57,205.95 176.37,206.43 177.16,206.79 177.95,205.99 178.75,208.95 179.54,206.86 180.34,206.49 181.13,210.13 181.93,207.72 182.72,205.55 183.52,207.95 184.31,206.80 185.11,207.49 185.90,206.49 186.70,205.38 187.49,207.50 188.28,207.71 189.08,208.25 189.87,208.75 190.67,207.72 191.46,208.17 192.26,208.19 193.05,208.67 193.85,208.28 194.64,208.09 195.44,208.66 196.23,207.90 197.03,207.86 197.82,208.49 198.61,208.05 199.41,207.87 200.20,208.09 201.00,208.15 201.79,208.06 202.59,208.35 203.38,208.76 204.18,208.65 204.97,208.17 205.77,208.28 206.56,208.10 207.35,208.03 208.15,208.39 208.94,208.51 209.74,208.71 210.53,208.27 211.33,208.31 212.12,209.29 212.92,208.16 213.71,207.91 214.51,208.72 215.30,208.11 216.09,208.23 216.89,207.86 217.68,208.63 218.48,208.38 219.27,207.77 220.07,208.15 220.86,208.13 221.66,207.58 222.45,207.53 223.25,207.03 224.04,207.14 224.84,206.57 225.63,207.04 226.42,206.12 227.22,205.02 228.01,204.19 228.81,207.65 229.60,202.57 230.40,203.56 231.19,200.84 231.99,199.47 232.78,196.81 233.58,193.96 234.37,193.69 235.16,190.27 235.96,190.26 236.75,185.65 237.55,182.22 238.34,180.14 239.14,180.53 239.93,173.90 240.73,173.08 241.52,172.14 242.32,170.07 243.11,168.65 243.91,166.70 244.70,165.38 245.49,162.54 246.29,164.73 247.08,159.92 247.88,156.47 248.67,156.28 249.47,154.84 250.26,151.23 251.06,147.83 251.85,146.37 252.65,148.66 253.44,142.13 254.23,141.04 255.03,132.64 255.82,132.34 256.62,125.06 257.41,120.32 258.21,114.08 259.00,109.51 259.80,107.75 260.59,101.61 261.39,100.29 262.18,100.33 262.98,97.58 263.77,98.97 264.56,100.33 265.36,125.76 266.15,152.98 266.95,179.41 267.74,191.42 268.54,201.06 269.33,202.93 270.13,205.35 270.92,202.08 271.72,202.64 272.51,198.28 273.31,196.09 274.10,194.44 274.89,196.21 275.69,194.81 276.48,191.56 277.28,189.05 278.07,183.90 278.87,185.92 279.66,188.12 280.46,191.36 281.25,191.17 282.05,187.65 282.84,179.73 283.63,173.12 284.43,170.45 285.22,162.86 286.02,166.92 286.81,175.91 287.61,176.91 288.40,176.74 289.20,179.19 289.99,179.88 290.79,180.28 291.58,182.15 292.38,177.89 293.17,181.11 293.96,185.16 294.76,187.69 295.55,190.91 296.35,194.77 297.14,195.85 297.94,193.07 298.73,189.01 299.53,188.36 300.32,181.74 301.12,168.85 301.91,162.73 302.70,159.07 303.50,155.28 304.29,155.22 305.09,155.07 305.88,154.67 306.68,151.14 307.47,154.25 308.27,154.92 309.06,154.69 309.86,155.52 310.65,157.10 311.44,159.43 312.24,165.21 313.03,167.51 313.83,170.11 314.62,175.81 315.42,179.43 316.21,185.65 317.01,189.89 317.80,194.64 318.60,198.64 319.39,200.27 320.19,205.35 320.98,208.27 321.77,212.10 322.57,206.31 323.36,206.52 324.16,204.23 324.95,204.91 325.75,202.09 326.54,199.15 327.34,201.56 328.13,198.52 328.93,196.12 329.72,194.12 330.51,194.81 331.31,192.27 332.10,189.60 332.90,187.84 333.69,180.68 334.49,175.70 335.28,175.00 336.08,186.46 336.87,191.72 337.67,194.33 338.46,191.11 339.26,193.17 340.05,189.88 340.84,187.76 341.64,185.82 342.43,185.30 343.23,181.63 344.02,183.08 344.82,184.67 345.61,197.95 346.41,195.56 347.20,196.27 348.00,195.62 348.79,195.83 349.58,198.11 350.38,199.02 351.17,201.46 351.97,202.90 352.76,201.29 353.56,205.75 354.35,204.91 355.15,205.07 355.94,204.04 356.74,203.26 357.53,205.02 358.33,208.27 359.12,204.71 359.91,205.41 360.71,205.96 361.50,205.24 362.30,208.06 363.09,206.73 363.89,207.19 364.68,205.78 365.48,205.69 366.27,205.83 367.07,206.00 367.86,201.68 368.65,203.13 369.45,198.48 370.24,200.32 371.04,202.56 371.83,200.14 372.63,200.13 373.42,204.87 374.22,204.98 375.01,205.94 375.81,208.23 376.60,203.07 377.40,204.40 378.19,204.21 378.98,204.25 379.78,203.60 380.57,204.78 381.37,203.29 382.16,202.80 382.96,201.69 383.75,199.96 384.55,198.60 385.34,196.99 386.14,194.46 386.93,189.63 387.72,190.78 388.52,192.18 389.31,194.26 390.11,194.76 390.90,195.55 391.70,194.43 392.49,196.04 393.29,191.60 394.08,192.74 394.88,194.63 395.67,202.13 396.47,206.48 397.26,205.15 398.05,205.61 398.85,204.98 399.64,207.65 400.44,205.75 401.23,206.52 402.03,207.50 402.82,208.34 403.62,205.60 404.41,207.48 405.21,206.60 406.00,207.94 406.80,205.46 407.59,205.99 408.38,203.29 409.18,202.82 409.97,201.90 410.77,204.94 411.56,204.42 412.36,203.81 413.15,208.60 413.95,207.80 414.74,208.33 415.54,204.30 416.33,204.88 417.12,203.43 417.92,204.48 418.71,202.85 419.51,203.10 420.30,202.93 421.10,200.78 421.89,200.81 422.69,201.62 423.48,205.30 424.28,201.66 425.07,203.78 425.87,202.50 426.66,200.97 427.45,203.10 428.25,204.47 429.04,200.76 429.84,200.74 430.63,195.41 431.43,196.11 432.22,192.41 433.02,186.19 433.81,188.22 434.61,184.75 435.40,176.85 436.19,178.56 436.99,180.38 437.78,188.21 438.58,189.08 439.37,186.43 440.17,164.97 440.96,158.04 441.76,157.30 442.55,155.75 443.35,146.91 444.14,142.70 444.94,136.37 445.73,138.22 446.52,137.30 447.32,127.61 448.11,140.22 448.91,147.17 449.70,151.10 450.50,130.63 451.29,116.13 452.09,105.29 452.88,99.40 453.68,92.49 454.47,86.32 455.26,79.15 456.06,77.36 456.85,66.20 457.65,69.69 458.44,59.88 459.24,53.66 460.03,51.40 460.83,44.49 461.62,41.38 462.42,41.56 463.21,90.16 464.00,84.13 464.80,84.13 465.59,68.46 466.39,63.93 467.18,56.40 467.98,55.19 468.77,53.08 469.57,64.24 470.36,54.35 471.16,50.01 471.95,47.54 472.75,50.97 473.54,65.44 474.33,67.25 475.13,72.43 475.92,48.56 476.72,47.96 477.51,47.35 478.31,45.24 479.10,47.96 479.90,55.19 480.69,58.81 481.49,59.11 482.28,58.81 483.07,55.19 483.87,49.35 484.66,52.80 485.46,53.49 486.25,46.33 487.05,49.49 487.84,51.81 488.64,50.28 489.43,47.88 490.23,44.84 491.02,50.92 491.82,52.37 492.61,43.77 493.40,44.52 494.20,50.24 494.99,49.68 495.79,46.67 496.58,49.37 497.38,48.92 498.17,44.24 498.97,42.31 499.76,48.59 500.56,52.49 501.35,50.78 502.14,56.91 502.94,53.27 503.73,59.67 504.53,56.88 505.32,56.99 506.12,56.51 506.91,55.75 507.71,51.34 508.50,54.74 509.30,54.35 510.09,55.96 510.89,49.57 511.68,52.34 512.47,52.69 513.27,50.38 514.06,49.44 514.86,59.68 515.65,58.82 516.45,52.72 517.24,56.69 518.04,60.90 518.83,67.40 519.63,69.77 520.42,69.08 521.21,72.75 522.01,68.09 522.80,61.13 523.60,66.64 524.39,62.75 525.19,62.56 525.98,64.19 526.78,60.42 527.57,59.24 528.37,55.06 529.16,54.72 529.96,51.77 530.75,48.97" fill="none" stroke="#f4ae76" stroke-width="1.8" stroke-linejoin="round"/>
</g>
<rect x="464.80" y="37.71" width="18.20" height="46.06" fill="none" stroke="#555" stroke-width="1" stroke-dasharray="3 1.5" opacity="0.7"/>
<line x1="420.6" y1="33" x2="483.00" y2="37.71" stroke="#3a3a3a" stroke-width="0.9" stroke-dasharray="3.6 1.4"/>
<line x1="420.6" y1="109.4" x2="483.00" y2="83.77" stroke="#3a3a3a" stroke-width="0.9" stroke-dasharray="3.6 1.4"/>
<rect x="282.3" y="33" width="138.3" height="76.4" fill="#fdfbe7"/>
<g clip-path="url(#ci)">
<polyline points="243.82,46.24 249.83,42.93 255.84,38.79 261.86,54.80 267.87,83.92 273.88,125.00 279.89,115.00 285.91,106.00 291.92,85.00 297.93,71.00 303.95,61.00 309.96,57.00 315.97,55.00 321.99,71.00 328.00,56.00 334.01,45.50 340.03,47.00 346.04,72.30 352.05,77.00 358.06,86.30 364.08,61.00 370.09,42.70 376.10,50.00 382.12,48.30 388.13,47.00 394.14,54.00 400.16,60.00 406.17,65.20 412.18,60.00 418.19,55.00 424.21,50.00 430.22,54.32 436.23,46.57 442.25,50.62 448.26,52.73 454.27,47.91 460.29,43.34" fill="none" stroke="#3d4df2" stroke-width="2.8" stroke-dasharray="8.5 4.1 2 3.9" stroke-linejoin="round"/>
<polyline points="243.82,64.17 249.83,57.35 255.84,50.70 261.86,43.32 267.87,35.72 273.88,130.00 279.89,135.00 285.91,140.00 291.92,128.00 297.93,78.10 303.95,88.50 309.96,90.50 315.97,72.00 321.99,84.30 328.00,86.40 334.01,64.70 340.03,74.00 346.04,73.70 352.05,90.00 358.06,99.00 364.08,97.60 370.09,68.00 376.10,70.80 382.12,69.40 388.13,61.00 394.14,69.40 400.16,66.60 406.17,80.70 412.18,86.30 418.19,85.00 424.21,79.00 430.22,77.32 436.23,86.30 442.25,82.16 448.26,73.78 454.27,72.49 460.29,73.92" fill="none" stroke="#4ab4f5" stroke-width="2.0" stroke-linejoin="round"/>
<polyline points="243.82,72.15 249.83,55.21 255.84,52.13 261.86,41.69 267.87,41.20 273.88,120.00 279.89,125.00 285.91,130.00 291.92,125.00 297.93,77.50 303.95,78.10 309.96,81.20 315.97,65.00 321.99,66.80 328.00,75.00 334.01,58.00 340.03,62.00 346.04,63.00 352.05,82.00 358.06,82.00 364.08,87.70 370.09,58.00 376.10,62.00 382.12,63.80 388.13,48.30 394.14,51.00 400.16,52.50 406.17,70.80 412.18,76.00 418.19,78.00 424.21,74.00 430.22,52.19 436.23,54.70 442.25,63.27 448.26,57.58 454.27,50.71 460.29,51.56" fill="none" stroke="#44f4f8" stroke-width="2.0" stroke-linejoin="round"/>
<polyline points="243.82,73.93 249.83,52.48 255.84,56.97 261.86,51.52 267.87,40.04 273.88,118.00 279.89,125.00 285.91,135.00 291.92,130.00 297.93,77.00 303.95,77.00 309.96,80.20 315.97,61.60 321.99,64.70 328.00,71.00 334.01,54.40 340.03,54.80 346.04,57.00 352.05,78.00 358.06,80.70 364.08,89.00 370.09,54.00 376.10,55.00 382.12,57.00 388.13,45.50 394.14,48.00 400.16,50.00 406.17,69.40 412.18,74.00 418.19,77.00 424.21,70.00 430.22,51.10 436.23,53.10 442.25,62.17 448.26,55.35 454.27,48.62 460.29,50.93" fill="none" stroke="#4cf44c" stroke-width="2.0" stroke-linejoin="round"/>
<polyline points="243.82,59.47 249.83,55.71 255.84,44.24 261.86,39.10 267.87,39.38 273.88,120.00 279.89,110.00 285.91,110.00 291.92,84.00 297.93,76.50 303.95,64.00 309.96,62.00 315.97,58.50 321.99,77.00 328.00,60.60 334.01,53.40 340.03,49.30 346.04,55.00 352.05,79.00 358.06,82.00 364.08,90.60 370.09,51.00 376.10,50.00 382.12,49.00 388.13,45.50 394.14,50.00 400.16,62.00 406.17,68.00 412.18,68.50 418.19,68.00 424.21,62.00 430.22,52.31 436.23,58.03 442.25,59.18 448.26,47.29 454.27,52.54 460.29,56.40" fill="none" stroke="#f4ae76" stroke-width="2.0" stroke-linejoin="round"/>
</g>
<rect x="282.3" y="33" width="138.3" height="76.4" fill="none" stroke="#000" stroke-width="1.9"/>
<rect x="101.5" y="35.5" width="134.5" height="86.8" fill="#fff" stroke="#bbb" stroke-width="1"/>
<line x1="103" y1="45.0" x2="134" y2="45.0" stroke="#3d4df2" stroke-width="2.2" stroke-dasharray="8.5 4.1 2 3.9"/>
<text x="137.3" y="49.7" font-family="Liberation Serif, 'Times New Roman', serif" stroke="#000" stroke-width="0.15" font-size="13.7" fill="#000">True</text>
<line x1="103" y1="61.9" x2="134" y2="61.9" stroke="#4ab4f5" stroke-width="1.8"/>
<text x="137.3" y="66.6" font-family="Liberation Serif, 'Times New Roman', serif" stroke="#000" stroke-width="0.15" font-size="13.7" fill="#000">ZS-PatchTST</text>
<line x1="103" y1="79.0" x2="134" y2="79.0" stroke="#44f4f8" stroke-width="1.8"/>
<text x="137.3" y="83.7" font-family="Liberation Serif, 'Times New Roman', serif" stroke="#000" stroke-width="0.15" font-size="13.7" fill="#000">ZS-RV-PatchTST</text>
<line x1="103" y1="96.0" x2="134" y2="96.0" stroke="#4cf44c" stroke-width="1.8"/>
<text x="137.3" y="100.7" font-family="Liberation Serif, 'Times New Roman', serif" stroke="#000" stroke-width="0.15" font-size="13.7" fill="#000">ZS-ZS-PatchTST</text>
<line x1="103" y1="112.9" x2="134" y2="112.9" stroke="#f4ae76" stroke-width="1.8"/>
<text x="137.3" y="117.6" font-family="Liberation Serif, 'Times New Roman', serif" stroke="#000" stroke-width="0.15" font-size="13.7" fill="#000">ZS-DT-PatchTST</text>
<rect x="54" y="6" width="476.75" height="228.5" fill="none" stroke="#000" stroke-width="1.9"/>
<line x1="54.00" y1="234.5" x2="54.00" y2="231.5" stroke="#000" stroke-width="1.2"/>
<text x="54.00" y="251.6" text-anchor="middle" font-family="Liberation Serif, 'Times New Roman', serif" font-size="18.4">0</text>
<line x1="133.46" y1="234.5" x2="133.46" y2="231.5" stroke="#000" stroke-width="1.2"/>
<text x="133.46" y="251.6" text-anchor="middle" font-family="Liberation Serif, 'Times New Roman', serif" font-size="18.4">100</text>
<line x1="212.92" y1="234.5" x2="212.92" y2="231.5" stroke="#000" stroke-width="1.2"/>
<text x="212.92" y="251.6" text-anchor="middle" font-family="Liberation Serif, 'Times New Roman', serif" font-size="18.4">200</text>
<line x1="292.38" y1="234.5" x2="292.38" y2="231.5" stroke="#000" stroke-width="1.2"/>
<text x="292.38" y="251.6" text-anchor="middle" font-family="Liberation Serif, 'Times New Roman', serif" font-size="18.4">300</text>
<line x1="371.83" y1="234.5" x2="371.83" y2="231.5" stroke="#000" stroke-width="1.2"/>
<text x="371.83" y="251.6" text-anchor="middle" font-family="Liberation Serif, 'Times New Roman', serif" font-size="18.4">400</text>
<line x1="451.29" y1="234.5" x2="451.29" y2="231.5" stroke="#000" stroke-width="1.2"/>
<text x="451.29" y="251.6" text-anchor="middle" font-family="Liberation Serif, 'Times New Roman', serif" font-size="18.4">500</text>
<line x1="530.75" y1="234.5" x2="530.75" y2="231.5" stroke="#000" stroke-width="1.2"/>
<text x="530.75" y="251.6" text-anchor="middle" font-family="Liberation Serif, 'Times New Roman', serif" font-size="18.4">600</text>
<line x1="54" y1="208.30" x2="57" y2="208.30" stroke="#000" stroke-width="1.2"/>
<text x="51.6" y="213.80" text-anchor="end" font-family="Liberation Serif, 'Times New Roman', serif" font-size="18.4">0</text>
<line x1="54" y1="164.27" x2="57" y2="164.27" stroke="#000" stroke-width="1.2"/>
<text x="51.6" y="169.77" text-anchor="end" font-family="Liberation Serif, 'Times New Roman', serif" font-size="18.4">50</text>
<line x1="54" y1="120.23" x2="57" y2="120.23" stroke="#000" stroke-width="1.2"/>
<text x="51.6" y="125.73" text-anchor="end" font-family="Liberation Serif, 'Times New Roman', serif" font-size="18.4">100</text>
<line x1="54" y1="76.19" x2="57" y2="76.19" stroke="#000" stroke-width="1.2"/>
<text x="51.6" y="81.69" text-anchor="end" font-family="Liberation Serif, 'Times New Roman', serif" font-size="18.4">150</text>
<line x1="54" y1="32.16" x2="57" y2="32.16" stroke="#000" stroke-width="1.2"/>
<text x="51.6" y="37.66" text-anchor="end" font-family="Liberation Serif, 'Times New Roman', serif" font-size="18.4">200</text>
<text x="292.6" y="281.3" text-anchor="middle" font-family="Liberation Serif, 'Times New Roman', serif" font-size="18.15">Time step(15/min)</text>
<text transform="translate(18.8,119.6) rotate(-90)" text-anchor="middle" font-family="Liberation Serif, 'Times New Roman', serif" font-size="18.15">Wind power/MW</text>
</svg></body></html>
